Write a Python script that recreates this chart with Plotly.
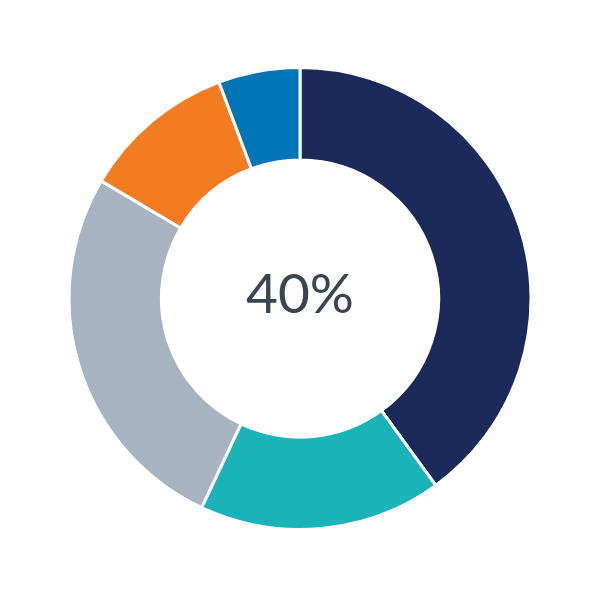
import plotly.graph_objects as go

labels = ["Navy", "Teal", "Gray", "Orange", "Blue"]
values = [40, 17, 26.5, 10.8, 5.7]
colors = ["#1b2a5b", "#1ab4b8", "#a8b3c1", "#f37c21", "#0074b5"]
center_text = "40%"

fig = go.Figure(go.Pie(
    labels=labels,
    values=values,
    hole=0.6,
    sort=False,
    direction="clockwise",
    rotation=0,
    marker=dict(colors=colors, line=dict(color="white", width=3)),
    textinfo="none",
    hoverinfo="label+percent",
    showlegend=False,
))

fig.add_annotation(
    text=center_text, x=0.5, y=0.5, xref="paper", yref="paper", yshift=7,
    showarrow=False, font=dict(family="Lato", size=55, color="#3b4550"),
)

# page body has an 8px margin, so the pie is nudged up/left to compensate
fig.update_layout(
    width=600, height=599,
    margin=dict(l=61, r=77, t=59, b=77),
    paper_bgcolor="white",
    plot_bgcolor="white",
)

fig.write_html("out.html")
